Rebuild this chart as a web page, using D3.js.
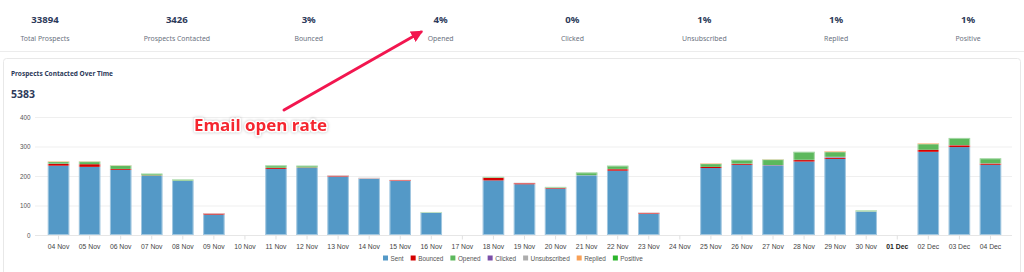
<!DOCTYPE html>
<html><head><meta charset="utf-8">
<script src="https://cdn.jsdelivr.net/npm/d3@7"></script>
<style>
html,body{margin:0;padding:0;background:#fff;}
svg{display:block;}
</style></head>
<body>
<svg id="c" width="1024" height="272"></svg>
<script>
// ---- data ----
const statValues = ["33894","3426","3%","4%","0%","1%","1%","1%"];
const statLabels = ["Total Prospects","Prospects Contacted","Bounced","Opened","Clicked","Unsubscribed","Replied","Positive"];
const dates = ["04 Nov","05 Nov","06 Nov","07 Nov","08 Nov","09 Nov","10 Nov","11 Nov","12 Nov","13 Nov","14 Nov","15 Nov","16 Nov","17 Nov","18 Nov","19 Nov","20 Nov","21 Nov","22 Nov","23 Nov","24 Nov","25 Nov","26 Nov","27 Nov","28 Nov","29 Nov","30 Nov","01 Dec","02 Dec","03 Dec","04 Dec"];
const sent     = [235,231,221,200,183,69,0,224,227,198,191,183,75,0,185,172,157,202,218,72,0,227,238,234,249,258,79,0,282,298,238];
const bounced  = [6,9,3,1,0,4,0,3,1,3,1,3,0,0,9,4,2,0,5,3,0,4,3,0,5,3,0,0,7,6,4];
const clicked  = [0,0,0,0,0,0,0,0,0,0,0,0,0,0,0,0,0,0,0,0,0,0,0,2,0,2,0,0,0,0,0];
const unsub    = [1,0,0,1,1,1,0,1,1,1,2,1,1,0,0,1,1,1,1,1,0,0,1,1,1,2,1,0,0,1,1];
const opened   = [6,9,12,6,4,0,0,8,6,0,0,0,2,0,3,0,3,9,11,0,0,10,13,19,27,16,3,0,19,24,17];
const replied  = [2,1,1,0,0,0,0,0,0,0,0,0,0,0,0,0,0,0,0,0,0,2,0,1,0,3,0,0,3,0,0];
const positive = [0,0,0,0,0,0,0,0,0,0,0,0,0,0,0,0,0,0,0,0,0,0,0,0,0,0,0,0,0,0,0];
const yTicks = [0,100,200,300,400];
const chartTitle = "Prospects Contacted Over Time";
const chartTotal = "5383";
const annotation = "Email open rate";
const legendNames = ["Sent","Bounced","Opened","Clicked","Unsubscribed","Replied","Positive"];

const colors = {Sent:"#5499c7",Bounced:"#d40000",Opened:"#5cb85c",Clicked:"#7b4fa8",Unsubscribed:"#adadad",Replied:"#f8a056",Positive:"#2cb52c"};
const seriesData = {Sent:sent,Bounced:bounced,Opened:opened,Clicked:clicked,Unsubscribed:unsub,Replied:replied,Positive:positive};
const stackOrder = ["Sent","Bounced","Clicked","Unsubscribed","Opened","Replied","Positive"];

const rows = dates.map((d,i)=>{const r={date:d}; for(const k of stackOrder) r[k]=seriesData[k][i]; return r;});

const svg = d3.select("#c");
const navy = "#2d3a5a";

// ---- stats row ----
const statX = d3.scalePoint().domain(d3.range(statValues.length)).range([45, 968]);
const stats = svg.append("g");
statValues.forEach((v,i)=>{
  stats.append("text").attr("x",statX(i)).attr("y",22.5).attr("text-anchor","middle")
    .attr("font-family","Noto Sans, sans-serif").attr("font-weight","700").attr("font-size",9.6)
    .attr("fill",navy).text(v);
  stats.append("text").attr("x",statX(i)).attr("y",40.5).attr("text-anchor","middle")
    .attr("font-family","Noto Sans, sans-serif").attr("font-size",6.9)
    .attr("fill","#6b7280").text(statLabels[i]);
});
svg.append("line").attr("x1",0).attr("x2",1024).attr("y1",51.5).attr("y2",51.5).attr("stroke","#ececec");

// ---- card ----
svg.append("rect").attr("x",3.5).attr("y",58.5).attr("width",1017).attr("height",230).attr("rx",3)
  .attr("fill","#fff").attr("stroke","#e8e8e8");
svg.append("text").attr("x",11).attr("y",75.5).attr("font-family","Noto Sans, sans-serif").attr("font-weight","700")
  .attr("font-size",7.2).attr("fill",navy).attr("textLength",102).attr("lengthAdjust","spacingAndGlyphs").text(chartTitle);
svg.append("text").attr("x",11).attr("y",98).attr("font-family","Noto Sans, sans-serif").attr("font-weight","700")
  .attr("font-size",10.5).attr("fill",navy).text(chartTotal);

// ---- scales ----
const x = d3.scaleBand().domain(dates).range([43,1006]).paddingInner(0.31).paddingOuter(0.155);
const y = d3.scaleLinear().domain([0,400]).range([235,117]);

// grid
const grid = svg.append("g");
grid.selectAll("line").data(yTicks).join("line")
  .attr("x1",35).attr("x2",1012).attr("y1",d=>y(d)+0.5).attr("y2",d=>y(d)+0.5)
  .attr("stroke","#efefef").attr("stroke-width",1);

// y axis labels
const yAxis = svg.append("g").attr("transform","translate(30.5,0)")
  .call(d3.axisLeft(y).tickValues(yTicks).tickSize(0).tickPadding(0));
yAxis.select(".domain").remove();
yAxis.selectAll("text").attr("font-family","Liberation Sans, Arial, sans-serif").attr("font-size",6.3).attr("fill","#555");

// x axis
const xAxis = svg.append("g").attr("transform","translate(0,235.5)")
  .call(d3.axisBottom(x).tickSize(4).tickPadding(5));
xAxis.select(".domain").attr("stroke","#e6e6e6").attr("d","M35,0H1012");
xAxis.selectAll(".tick line").attr("stroke","#e0e0e0");
xAxis.selectAll("text").attr("font-family","Liberation Sans, Arial, sans-serif").attr("font-size",6.8)
  .attr("font-weight",d=>d==="01 Dec"?"700":"400").attr("fill",d=>d==="01 Dec"?"#222":"#444");

// bars
const stack = d3.stack().keys(stackOrder)(rows);
const bars = svg.append("g");
stack.forEach(layer=>{
  bars.append("g").attr("fill",colors[layer.key])
    .selectAll("rect").data(layer.filter(d=>d[1]-d[0]>0)).join("rect")
    .attr("x",d=>x(d.data.date)).attr("width",x.bandwidth())
    .attr("y",d=>y(d[1])).attr("height",d=>y(d[0])-y(d[1]));
});
// light outline around each stacked column
bars.append("g").selectAll("rect").data(rows.filter(r=>d3.sum(stackOrder,k=>r[k])>0)).join("rect")
  .attr("x",d=>x(d.date)+0.5).attr("width",x.bandwidth()-1)
  .attr("y",d=>y(d3.sum(stackOrder,k=>d[k]))+0.5)
  .attr("height",d=>y(0)-y(d3.sum(stackOrder,k=>d[k]))-1)
  .attr("fill","none").attr("stroke","#ffffff").attr("stroke-opacity",0.45).attr("stroke-width",1);

// legend
const legend = svg.append("g");
let lx = 383;
legendNames.forEach(n=>{
  legend.append("rect").attr("x",lx).attr("y",255.5).attr("width",5).attr("height",5).attr("fill",colors[n]);
  const t = legend.append("text").attr("x",lx+7.5).attr("y",260.5).attr("font-family","Liberation Sans, Arial, sans-serif")
    .attr("font-size",6.4).attr("fill","#555").text(n);
  lx += 7.5 + t.node().getComputedTextLength() + 7;
});

// annotation arrow
const defs = svg.append("defs");
defs.append("marker").attr("id","ah").attr("viewBox","0 0 10 10").attr("refX",8).attr("refY",5)
  .attr("markerWidth",4).attr("markerHeight",4).attr("orient","auto")
  .append("path").attr("d","M0,0L10,5L0,10z").attr("fill","#f2164f");
svg.append("line").attr("x1",284).attr("y1",110).attr("x2",421).attr("y2",32)
  .attr("stroke","#f2164f").attr("stroke-width",3).attr("stroke-linecap","round").attr("marker-end","url(#ah)");
svg.append("text").attr("x",194).attr("y",131).attr("font-family","Open Sans, sans-serif").attr("font-weight","700")
  .attr("font-size",16).attr("fill","#f5262f").attr("stroke","#ffffff").attr("stroke-width",3)
  .attr("paint-order","stroke").attr("stroke-linejoin","round")
  .attr("textLength",133).attr("lengthAdjust","spacingAndGlyphs")
  .style("filter","drop-shadow(0px 0px 1.5px rgba(0,0,0,0.25))").text(annotation);
</script>
</body></html>
